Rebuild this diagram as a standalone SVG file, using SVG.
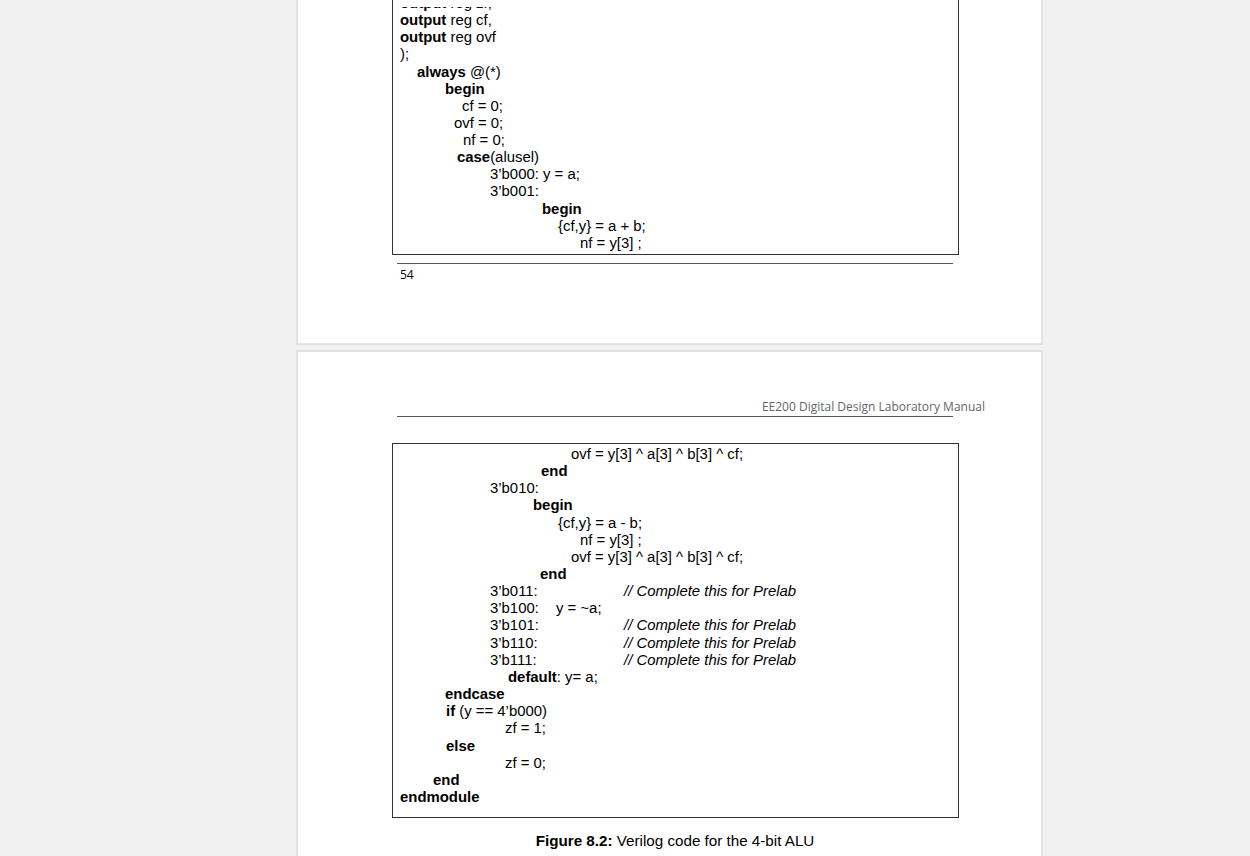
<svg xmlns="http://www.w3.org/2000/svg" width="1250" height="856" viewBox="0 0 1250 856">
<style>
text{font-family:"Liberation Sans",Arial,sans-serif;font-size:14.9px;fill:#000}
.b{font-weight:bold}
.i{font-style:italic}
.box{fill:none;stroke:#333;stroke-width:1}
.hdr{font-family:"Open Sans","Noto Sans",sans-serif;font-size:12px;fill:#666}
</style>
<rect width="1250" height="856" fill="#f1f1f1"/>
<rect x="296" y="-2" width="747" height="347" fill="#e2e2e2"/>
<rect x="298" y="0" width="743" height="343" fill="#fff"/>
<rect x="296" y="350" width="747" height="510" fill="#e2e2e2"/>
<rect x="298" y="352" width="743" height="510" fill="#fff"/>
<g id="page1">
<rect class="box" x="392.5" y="-5" width="566" height="259.5"/>
<text x="400" y="8" class="b">output <tspan font-weight="normal">reg zf,</tspan></text>
<rect x="393" y="0" width="565" height="7" fill="#fff"/>
<text x="400" y="25"><tspan class="b">output</tspan> reg cf,</text>
<text x="400" y="42"><tspan class="b">output</tspan> reg ovf</text>
<text x="400" y="59">);</text>
<text x="417" y="77"><tspan class="b">always</tspan> @(*)</text>
<text x="445" y="94" class="b">begin</text>
<text x="462" y="111">cf = 0;</text>
<text x="454" y="128">ovf = 0;</text>
<text x="463" y="145">nf = 0;</text>
<text x="457" y="162"><tspan class="b">case</tspan>(alusel)</text>
<text x="490" y="179">3’b000: y = a;</text>
<text x="490" y="196">3’b001:</text>
<text x="542" y="214" class="b">begin</text>
<text x="558" y="231">{cf,y} = a + b;</text>
<text x="580" y="248">nf = y[3] ;</text>
<line x1="397" y1="263.5" x2="953" y2="263.5" stroke="#555"/>
<text x="400" y="279" style="font-family:'Open Sans','Noto Sans',sans-serif;font-size:12px">54</text>
</g>
<g id="page2">
<text x="985" y="411" text-anchor="end" class="hdr">EE200 Digital Design Laboratory Manual</text>
<line x1="397" y1="416.5" x2="953" y2="416.5" stroke="#555"/>
<rect class="box" x="392.5" y="443.5" width="566" height="374"/>
<text x="571" y="459">ovf = y[3] ^ a[3] ^ b[3] ^ cf;</text>
<text x="541" y="476" class="b">end</text>
<text x="490" y="493">3’b010:</text>
<text x="533" y="510" class="b">begin</text>
<text x="558" y="528">{cf,y} = a - b;</text>
<text x="580" y="545">nf = y[3] ;</text>
<text x="571" y="562">ovf = y[3] ^ a[3] ^ b[3] ^ cf;</text>
<text x="540" y="579" class="b">end</text>
<text x="490" y="596">3’b011:</text>
<text x="624" y="596" class="i">// Complete this for Prelab</text>
<text x="490" y="613">3’b100:</text>
<text x="556" y="613">y = ~a;</text>
<text x="490" y="630">3’b101:</text>
<text x="624" y="630" class="i">// Complete this for Prelab</text>
<text x="490" y="648">3’b110:</text>
<text x="624" y="648" class="i">// Complete this for Prelab</text>
<text x="490" y="665">3’b111:</text>
<text x="624" y="665" class="i">// Complete this for Prelab</text>
<text x="508" y="682"><tspan class="b">default</tspan>: y= a;</text>
<text x="445" y="699" class="b">endcase</text>
<text x="446" y="716"><tspan class="b">if</tspan> (y == 4’b000)</text>
<text x="505" y="733">zf = 1;</text>
<text x="446" y="751" class="b">else</text>
<text x="505" y="768">zf = 0;</text>
<text x="433" y="785" class="b">end</text>
<text x="400" y="802" class="b">endmodule</text>
<text x="675" y="846" text-anchor="middle" style="font-size:15.2px"><tspan class="b">Figure 8.2:</tspan> Verilog code for the 4-bit ALU</text>
</g>
</svg>
